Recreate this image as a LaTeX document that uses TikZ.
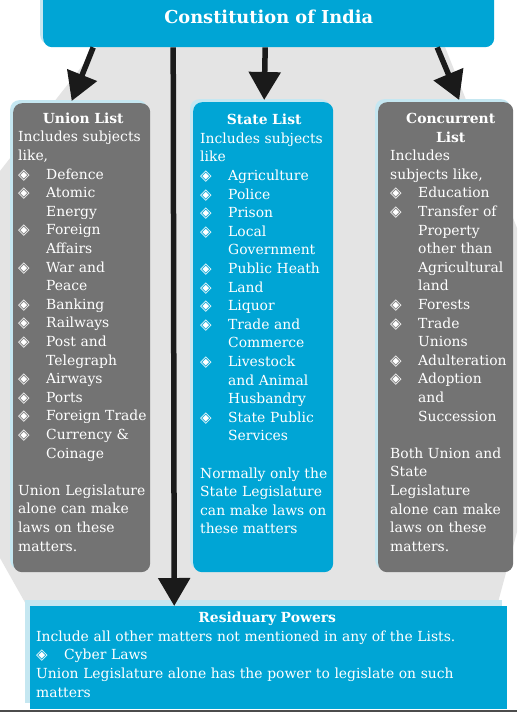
\documentclass[tikz,border=0pt]{standalone}
\usepackage{fontspec}
\setmainfont{DejaVu Serif}
\newfontfamily\symfont{DejaVu Sans}
\usetikzlibrary{arrows.meta,positioning,shadows}
\definecolor{ListBlue}{HTML}{00A5D5}
\definecolor{ListGrey}{HTML}{737373}
\definecolor{RimBlue}{HTML}{C5E7F1}
\definecolor{BackGrey}{HTML}{E4E4E4}
\definecolor{ArrowBlack}{HTML}{1A1A1A}

\newcommand{\dia}{{\symfont\fontsize{15}{15}\selectfont ◈}}
\newcommand{\itm}[1]{\makebox[28pt][l]{\dia}#1}
\newcommand{\cnt}[1]{\hspace*{28pt}#1}
\newcommand{\hd}[1]{\hfill\textbf{#1}\hfill\null}

\begin{document}
\begin{tikzpicture}[x=1pt, y=1pt,
  listbox/.style={rounded corners=9pt, anchor=north west, inner sep=0pt,
    general shadow={fill=RimBlue, shadow xshift=-3pt, shadow yshift=3pt}},
  greybox/.style={listbox, fill=ListGrey},
  bluebox/.style={listbox, fill=ListBlue},
  listtext/.style={text=white, align=left, anchor=north west, inner sep=0pt,
    font=\fontsize{13.9}{18.6}\selectfont},
  bigarrow/.style={draw=ArrowBlack, line width=5.5pt, -{Triangle[length=28pt,width=31pt]}}]
  \clip (0,0) rectangle (517,-712);
  \fill[white] (0,0) rectangle (517,-712);
  % grey backdrop
  \fill[BackGrey] (97,-47) -- (0,-171) -- (0,-558) -- (27,-606) -- (497,-606)
    -- (517,-532) -- (517,-228) -- (445,-47) -- cycle;

  % boxes
  \node[bluebox, minimum width=451pt, minimum height=57pt] (title) at (43,10) {};
  \node[text=white, font=\bfseries\fontsize{17.8}{20}\selectfont] at ([yshift=2pt]title.center) {Constitution of India};
  \node[greybox, minimum width=137pt, minimum height=469pt] (union) at (13,-103) {};
  \node[bluebox, minimum width=140pt, minimum height=470pt] (state) at (193,-102) {};
  \node[greybox, minimum width=135pt, minimum height=470pt] (concur) at (378,-102) {};
  \node[fill=ListBlue, anchor=north west, inner sep=0pt, minimum width=477pt, minimum height=103pt,
    general shadow={fill=RimBlue, shadow xshift=-5pt, shadow yshift=6pt}] (resid) at (30,-606) {};
  \draw[line width=1.5pt, black!70] (0,-711) -- (517,-711);

  % texts
  \node[listtext, text width=130pt] (uniontext) at ([xshift=5pt,yshift=-9.5pt]union.north west) {
    \hd{Union List}\\
    Includes subjects\\
    like,\\
    \itm{Defence}\\
    \itm{Atomic}\\
    \cnt{Energy}\\
    \itm{Foreign}\\
    \cnt{Affairs}\\
    \itm{War and}\\
    \cnt{Peace}\\
    \itm{Banking}\\
    \itm{Railways}\\
    \itm{Post and}\\
    \cnt{Telegraph}\\
    \itm{Airways}\\
    \itm{Ports}\\
    \itm{Foreign Trade}\\
    \itm{Currency \&}\\
    \cnt{Coinage}\\[18.6pt]
    Union Legislature\\
    alone can make\\
    laws on these\\
    matters.
  };
  \node[listtext, text width=128pt] (statetext) at ([xshift=7pt,yshift=-12pt]state.north west) {
    \hd{State List}\\
    Includes subjects\\
    like\\
    \itm{Agriculture}\\
    \itm{Police}\\
    \itm{Prison}\\
    \itm{Local}\\
    \cnt{Government}\\
    \itm{Public Heath}\\
    \itm{Land}\\
    \itm{Liquor}\\
    \itm{Trade and}\\
    \cnt{Commerce}\\
    \itm{Livestock}\\
    \cnt{and Animal}\\
    \cnt{Husbandry}\\
    \itm{State Public}\\
    \cnt{Services}\\[18.6pt]
    Normally only the\\
    State Legislature\\
    can make laws on\\
    these matters
  };
  \node[listtext, text width=121pt] (concurtext) at ([xshift=12pt,yshift=-11pt]concur.north west) {
    \hd{Concurrent}\\
    \hd{List}\\
    Includes\\
    subjects like,\\
    \itm{Education}\\
    \itm{Transfer of}\\
    \cnt{Property}\\
    \cnt{other than}\\
    \cnt{Agricultural}\\
    \cnt{land}\\
    \itm{Forests}\\
    \itm{Trade}\\
    \cnt{Unions}\\
    \itm{Adulteration}\\
    \itm{Adoption}\\
    \cnt{and}\\
    \cnt{Succession}\\[18.6pt]
    Both Union and\\
    State\\
    Legislature\\
    alone can make\\
    laws on these\\
    matters.
  };
  \node[listtext, text width=462pt] (residtext) at ([xshift=6pt,yshift=-6pt]resid.north west) {
    \hd{Residuary Powers}\\
    Include all other matters not mentioned in any of the Lists.\\
    \itm{Cyber Laws}\\
    Union Legislature alone has the power to legislate on such\\
    matters
  };

  % arrows
  \draw[bigarrow] ([xshift=-175.5pt]title.south) -- ([xshift=-10pt,yshift=2pt]union.north);
  \draw[bigarrow] ([xshift=-3.5pt]title.south) -- ([xshift=1pt,yshift=2pt]state.north);
  \draw[bigarrow] ([xshift=168.5pt]title.south) -- ([xshift=13.5pt,yshift=2pt]concur.north);
  \draw[bigarrow] ([xshift=-95.5pt]title.south) -- ([xshift=-94.5pt]resid.north);
\end{tikzpicture}
\end{document}
